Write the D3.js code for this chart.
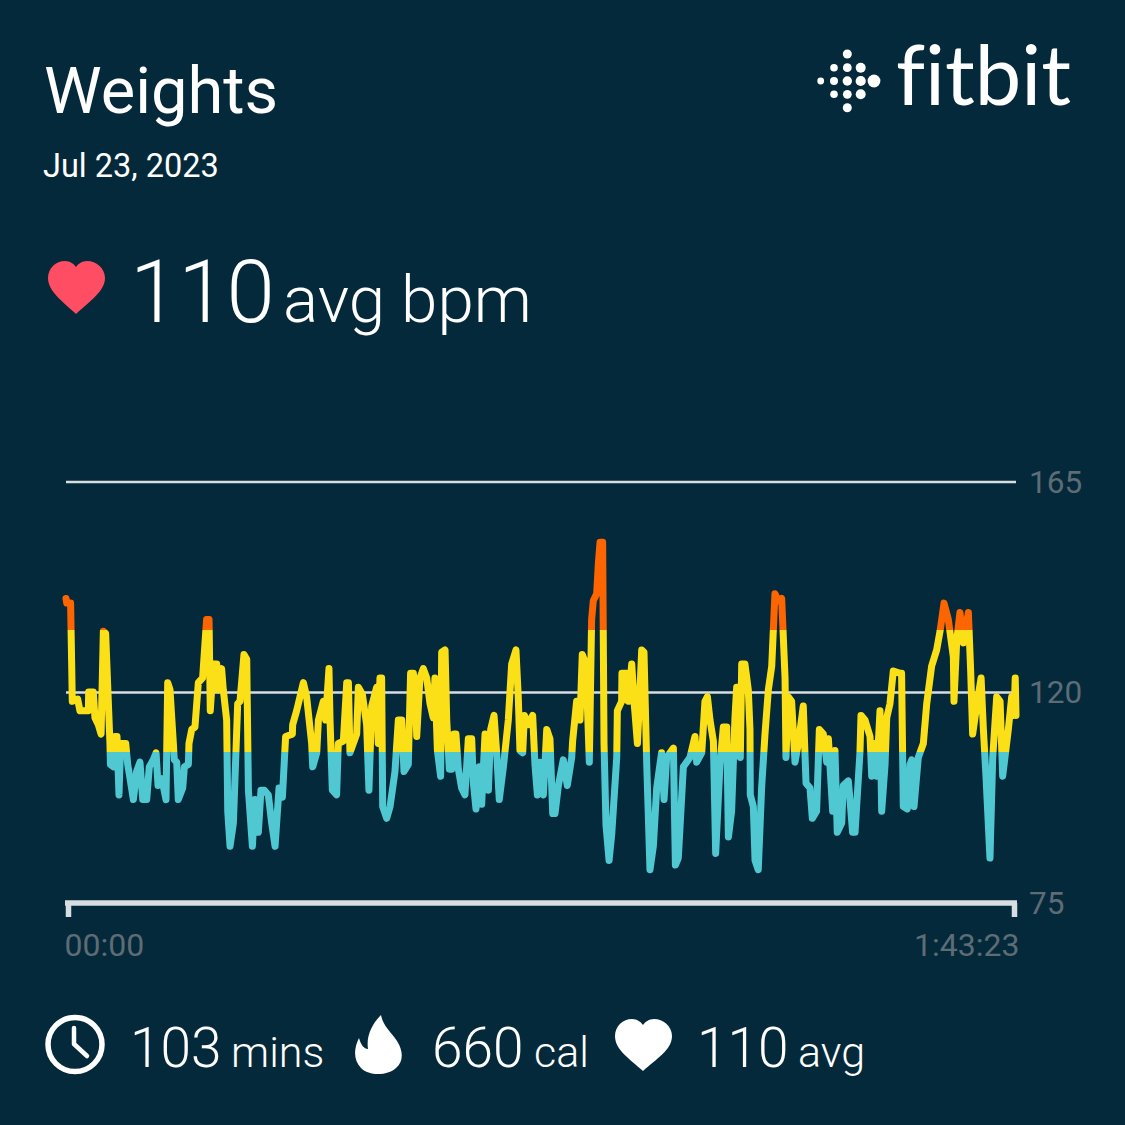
<!DOCTYPE html>
<html>
<head>
<meta charset="utf-8">
<script src="https://cdn.jsdelivr.net/npm/d3@7"></script>
<style>
  html, body { margin: 0; padding: 0; background: #04293a; }
  svg { display: block; }
  text { font-family: Roboto, sans-serif; fill: #fff; }
</style>
</head>
<body>
<svg id="chart" width="1125" height="1125"></svg>
<script>
// elapsed seconds
const seconds = [0,5,30,37,41,76,91,146,148,178,189,211,229,244,259,287,290,309,320,333,346,357,390,403,418,440,461,483,501,527,544,570,588,601,625,653,664,679,701,707,723,733,762,773,799,803,821,842,864,892,918,934,942,962,984,995,1016,1027,1049,1056,1071,1093,1121,1136,1162,1180,1191,1217,1234,1256,1273,1295,1321,1343,1365,1391,1413,1434,1478,1480,1506,1550,1571,1604,1611,1637,1648,1680,1695,1717,1724,1739,1767,1778,1811,1833,1844,1854,1898,1909,1935,1963,1978,1996,2028,2039,2050,2061,
  2068,2094,2116,2148,2170,2192,2207,2235,2250,2268,2285,2290,2311,2333,2355,2377,2398,2409,2425,2446,2453,2475,2486,2503,2518,2533,2546,2562,2583,2605,2627,2649,2660,2677,2699,2714,2736,2758,2773,2795,2812,2829,2856,2888,2910,2938,2953,2964,2982,2993,3019,3047,3062,3078,3095,3117,3139,3160,3178,3193,3215,3247,3273,3302,3308,3334,3356,3371,3395,3417,3432,3443,3465,3476,3487,3504,3513,3526,3546,3563,3596,3600,3628,3630,3661,3672,3694,3709,3731,3744,3759,3774,3792,3813,3835,3857,3878,3889,3905,3922,3966,3979,3998,4031,4074,4107,4118,4151,4172,4188,4205,4227,
  4242,4270,4292,4314,4325,4346,4368,4379,4401,4403,4412,4433,4455,4466,4468,4488,4499,4520,4542,4564,4586,4608,4629,4651,4673,4695,4701,4716,4738,4760,4782,4814,4832,4858,4873,4901,4919,4945,4967,4978,5006,5021,5036,5065,5075,5108,5119,5136,5152,5184,5191,5217,5250,5261,5282,5293,5315,5326,5348,5359,5380,5402,5446,5456,5467,5493,5511,5522,5537,5565,5598,5620,5652,5685,5707,5733,5761,5794,5798,5816,5837,5859,5892,5907,5920,5946,5975,5990,6007,6033,6051,6077,6099,6116,6153,6175,6190,6198,6203]
const bpm = [140,139,139,126,118,118.5,116,116,120,120,114.5,113,111,133,132.5,109,104.5,104,110.5,110.5,98,109,109,104.5,101.5,97,103,105,97,97,104,105.5,107,100,101.5,97,122,120.5,109,105.5,105,97,99.5,104,104.5,109,112,112.5,122,123,135.5,135.5,116,126,126,120.5,125,120.5,114,94.5,87,92,117.5,118,128,127,99,87,97,90,99,99,98,92,87,99.5,97.5,110.5,111,113,116,122,119,109,104,107,114,118,114,125,114,99,98,109,109.5,122,122,107,111,121,119.5,113,99,117,121,109,123,123,
  95.5,93,95.5,103,114,114,103,104.5,124,124,115.5,110.5,123,125,123,117.5,114.5,123,107.5,102,128.5,129,114,103.5,103.5,111,111,103.5,99.5,98,110,110,100.5,95,104,96,111,99,112,115,107,97,104,114,126,129,119,107.5,107,115,113,115,104.5,98,105,98,112,110,94,94,100,105.5,100,106,109.5,118,114,128,126,105,135.5,139.5,141,147.5,152,152,109,91.5,84,89.5,106,116,118,124,124,118,126,118,109,117.5,129,128.5,104.5,82,87,99.5,104.5,107,97,106,108,83,84.5,104,106,110.5,105,107,118,119,114,109.5,
  85.5,104.5,112.5,112.5,89,94.5,114.5,121,121,106,126,126,120.5,112,98,95.5,84,82,99.5,111,120.5,125.5,141,139.5,140,123,106,119,118,105,109,117,100.5,99.5,93,94.5,112,111,105,110,94.5,107.5,90,92,100,101,97,90,90,107,115,114,110.5,102,109,102,116,94.5,104.5,114.5,117.5,124.5,124,124,95.5,95,104.5,105.5,95.5,106,109,117.5,125.5,129,133,139,135.5,127.5,118,131,137,130.5,137,124.5,111,117,123,112,102,84.5,106,119,118,102,112,119,115,123,115]

const yTicks = [75, 120, 165]
const xLabels = ["00:00", "1:43:23"]
const duration = 6203
const zoneLimits = [107.2, 133.2]
const zoneColors = ["#4fc8d2", "#fce017", "#fc6500"]

const svg = d3.select("#chart")
const x = d3.scaleLinear().domain([0, duration]).range([66, 1016])
const y = d3.scaleLinear().domain([75, 165]).range([902.5, 481.5])

// header
svg.append("text").attr("x", 44).attr("y", 113).attr("font-size", 65).text("Weights")
svg.append("text").attr("x", 43).attr("y", 177).attr("font-size", 32.5).text("Jul 23, 2023")

// fitbit logo
const dotX = [820.7, 834, 847.3, 860.7, 874]
const dotY = [54, 67.7, 81, 94.3, 107.7]
const logoDots = [[2,0,4.5],[1,1,3.8],[2,1,4.4],[3,1,5],[0,2,3.4],[1,2,4],[2,2,4.7],[3,2,5.1],[4,2,6.4],[1,3,3.8],[2,3,4.4],[3,3,5],[2,4,4.5]]
svg.append("g").selectAll("circle").data(logoDots).join("circle")
    .attr("cx", d => dotX[d[0]]).attr("cy", d => dotY[d[1]]).attr("r", d => d[2]).attr("fill", "#fff")
svg.append("text").attr("x", 896).attr("y", 105).attr("font-size", 83)
    .style("font-family", "Lato").style("font-weight", 400)
    .style("font-variant-ligatures", "none").text("fitbit")

// headline
svg.append("path").attr("fill", "#ff4d64")
    .attr("d", "M76 314C62 301 48 291 48 278C48 268 56 261 65 261C70 261 74 264 76 267C78 264 82 261 87 261C96 261 105 268 105 278C105 291 90 301 76 314Z")
svg.append("text").attr("x", 130).attr("y", 322).attr("font-size", 87).style("font-weight", 300).text("110")
svg.append("text").attr("x", 283).attr("y", 322).attr("font-size", 65.5).style("font-weight", 300).text("avg bpm")

// zone gradient on the heart rate line
const defs = svg.append("defs")
const grad = defs.append("linearGradient").attr("id", "zones")
    .attr("gradientUnits", "userSpaceOnUse")
    .attr("x1", 0).attr("x2", 0).attr("y1", y(75)).attr("y2", y(165))
const stopAt = v => (v - 75) / (165 - 75)
const stops = [
    [0, zoneColors[0]], [stopAt(zoneLimits[0]), zoneColors[0]],
    [stopAt(zoneLimits[0]), zoneColors[1]], [stopAt(zoneLimits[1]), zoneColors[1]],
    [stopAt(zoneLimits[1]), zoneColors[2]], [1, zoneColors[2]]
]
grad.selectAll("stop").data(stops).join("stop")
    .attr("offset", d => d[0]).attr("stop-color", d => d[1])

// y axis, the ticks double as the grid lines
const yAxis = svg.append("g").attr("transform", "translate(1016,0)")
    .call(d3.axisRight(y).tickValues(yTicks).tickSize(-950).tickPadding(13))
yAxis.select(".domain").remove()
yAxis.selectAll("line").attr("stroke", "#d7dde0").attr("stroke-width", 2.4)
yAxis.selectAll("line").filter(d => d === 75).remove()
yAxis.selectAll("text").style("fill", "#5d6c75").attr("font-size", 31.5)
    .style("font-family", "Roboto").attr("dy", "0.34em")

// x axis
const xAxis = svg.append("g").attr("transform", "translate(0,903)")
    .call(d3.axisBottom(x).tickValues([0, duration]).tickSize(14).tickPadding(16)
        .tickFormat((d, i) => xLabels[i]))
xAxis.select(".domain").remove()
xAxis.append("line").attr("x1", 65).attr("x2", 1017).attr("stroke", "#d7dde0").attr("stroke-width", 5.5)
// end ticks sit just inside the bar
xAxis.selectAll(".tick line").attr("stroke", "#d7dde0").attr("stroke-width", 5.5)
    .attr("transform", (d, i) => `translate(${i ? -2 : 2},0)`)
xAxis.selectAll("text").style("fill", "#5d6c75").attr("font-size", 32).style("font-family", "Roboto")
    .attr("text-anchor", (d, i) => i ? "end" : "start")
    .attr("dx", (d, i) => i ? 3 : -2)

// heart rate line
const line = d3.line().x((d, i) => x(seconds[i])).y(d => y(d))
svg.append("path").datum(bpm)
    .attr("d", line)
    .attr("fill", "none")
    .attr("stroke", "url(#zones)")
    .attr("stroke-width", 7)
    .attr("stroke-linejoin", "round")
    .attr("stroke-linecap", "round")

// summary row
svg.append("circle").attr("cx", 75).attr("cy", 1044.5).attr("r", 27).attr("fill", "none")
    .attr("stroke", "#fff").attr("stroke-width", 5.5)
svg.append("path").attr("d", "M74 1028V1044L87 1056").attr("fill", "none")
    .attr("stroke", "#fff").attr("stroke-width", 4.5).attr("stroke-linecap", "round").attr("stroke-linejoin", "round")
svg.append("path").attr("fill", "#fff")
    .attr("d", "M381 1015C383 1026 391 1032 397 1041C404 1052 403 1062 396 1068C387 1076 369 1076 361 1068C354 1061 353 1050 359 1038C361 1045 364 1049 368 1049C366 1036 372 1024 381 1015Z")
svg.append("path").attr("fill", "#fff")
    .attr("d", "M643 1071C630 1059 615 1050 615 1036C615 1026 623 1019 632 1019C637 1019 641 1022 643 1025C645 1022 649 1019 654 1019C663 1019 672 1026 672 1036C672 1050 656 1059 643 1071Z")

const stats = [
    ["103", 130, "mins", 231],
    ["660", 432, "cal", 534],
    ["110", 697, "avg", 798]
]
stats.forEach(s => {
    svg.append("text").attr("x", s[1]).attr("y", 1067).attr("font-size", 55).style("font-weight", 300).text(s[0])
    svg.append("text").attr("x", s[3]).attr("y", 1067).attr("font-size", 43).style("font-weight", 300).text(s[2])
})
</script>
</body>
</html>
